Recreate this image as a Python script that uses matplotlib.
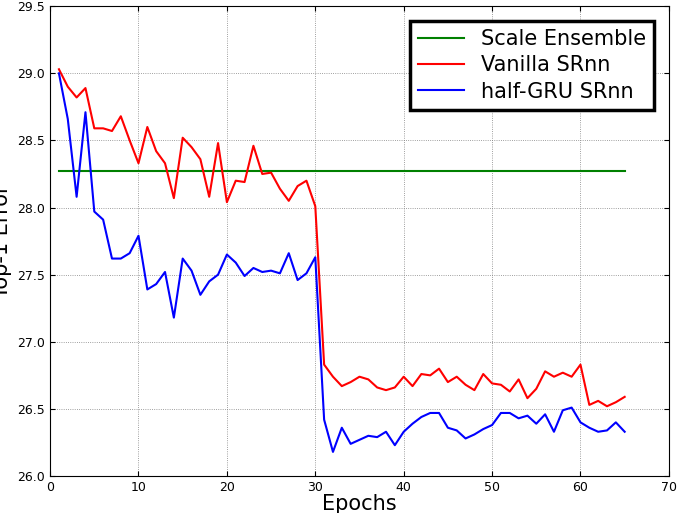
import matplotlib
matplotlib.use("Agg")
import matplotlib.pyplot as plt

epochs = list(range(1, 66))
vanilla = [29.03,28.9,28.82,28.89,28.59,28.59,28.57,28.68,28.5,28.33,28.6,28.42,28.33,28.07,28.52,28.45,28.36,28.08,28.48,28.04,
           28.2,28.19,28.46,28.25,28.26,28.14,28.05,28.16,28.2,28.01,26.83,26.74,26.67,26.7,26.74,26.72,26.66,26.64,26.66,26.74,
           26.67,26.76,26.75,26.8,26.7,26.74,26.68,26.64,26.76,26.69,26.68,26.63,26.72,26.58,26.65,26.78,26.74,26.77,26.74,26.83,
           26.53,26.56,26.52,26.55,26.59]
halfgru = [29.0,28.66,28.08,28.71,27.97,27.91,27.62,27.62,27.66,27.79,27.39,27.43,27.52,27.18,27.62,27.53,27.35,27.45,27.5,27.65,
           27.59,27.49,27.55,27.52,27.53,27.51,27.66,27.46,27.51,27.63,26.42,26.18,26.36,26.24,26.27,26.3,26.29,26.33,26.23,26.33,
           26.39,26.44,26.47,26.47,26.36,26.34,26.28,26.31,26.35,26.38,26.47,26.47,26.43,26.45,26.39,26.46,26.33,26.49,26.51,26.4,
           26.36,26.33,26.34,26.4,26.33]
ensemble = 28.27

fig = plt.figure(figsize=(6.77, 5.13), dpi=100)
ax = fig.add_axes([0.074, 0.072, 0.914, 0.916])
ax.plot([epochs[0], epochs[-1]], [ensemble, ensemble], color='green', lw=1.5, label='Scale Ensemble')
ax.plot(epochs, vanilla, color='red', lw=1.5, label='Vanilla SRnn')
ax.plot(epochs, halfgru, color='blue', lw=1.5, label='half-GRU SRnn')
ax.set_xlim(0, 70)
ax.set_ylim(26.0, 29.5)
ax.set_xticks(range(0, 71, 10))
ax.set_yticks([26.0,26.5,27.0,27.5,28.0,28.5,29.0,29.5])
ax.set_yticklabels([f"{v:.1f}" for v in ax.get_yticks()])
ax.grid(True, color='gray', linestyle=':', lw=0.6)
ax.tick_params(direction='in', labelsize=9, top=True, right=True)
ax.set_xlabel('Epochs', fontsize=15, labelpad=0)
ax.set_ylabel('Top-1 Error', fontsize=15)
ax.yaxis.set_label_coords(-0.062, 0.5)
leg = ax.legend(loc='upper right', fontsize=15, fancybox=False, framealpha=1, borderaxespad=0.7,
                handlelength=2.2, labelspacing=0.3)
leg.get_frame().set_edgecolor('black')
leg.get_frame().set_linewidth(2.5)
fig.savefig('out.png', dpi=100)
